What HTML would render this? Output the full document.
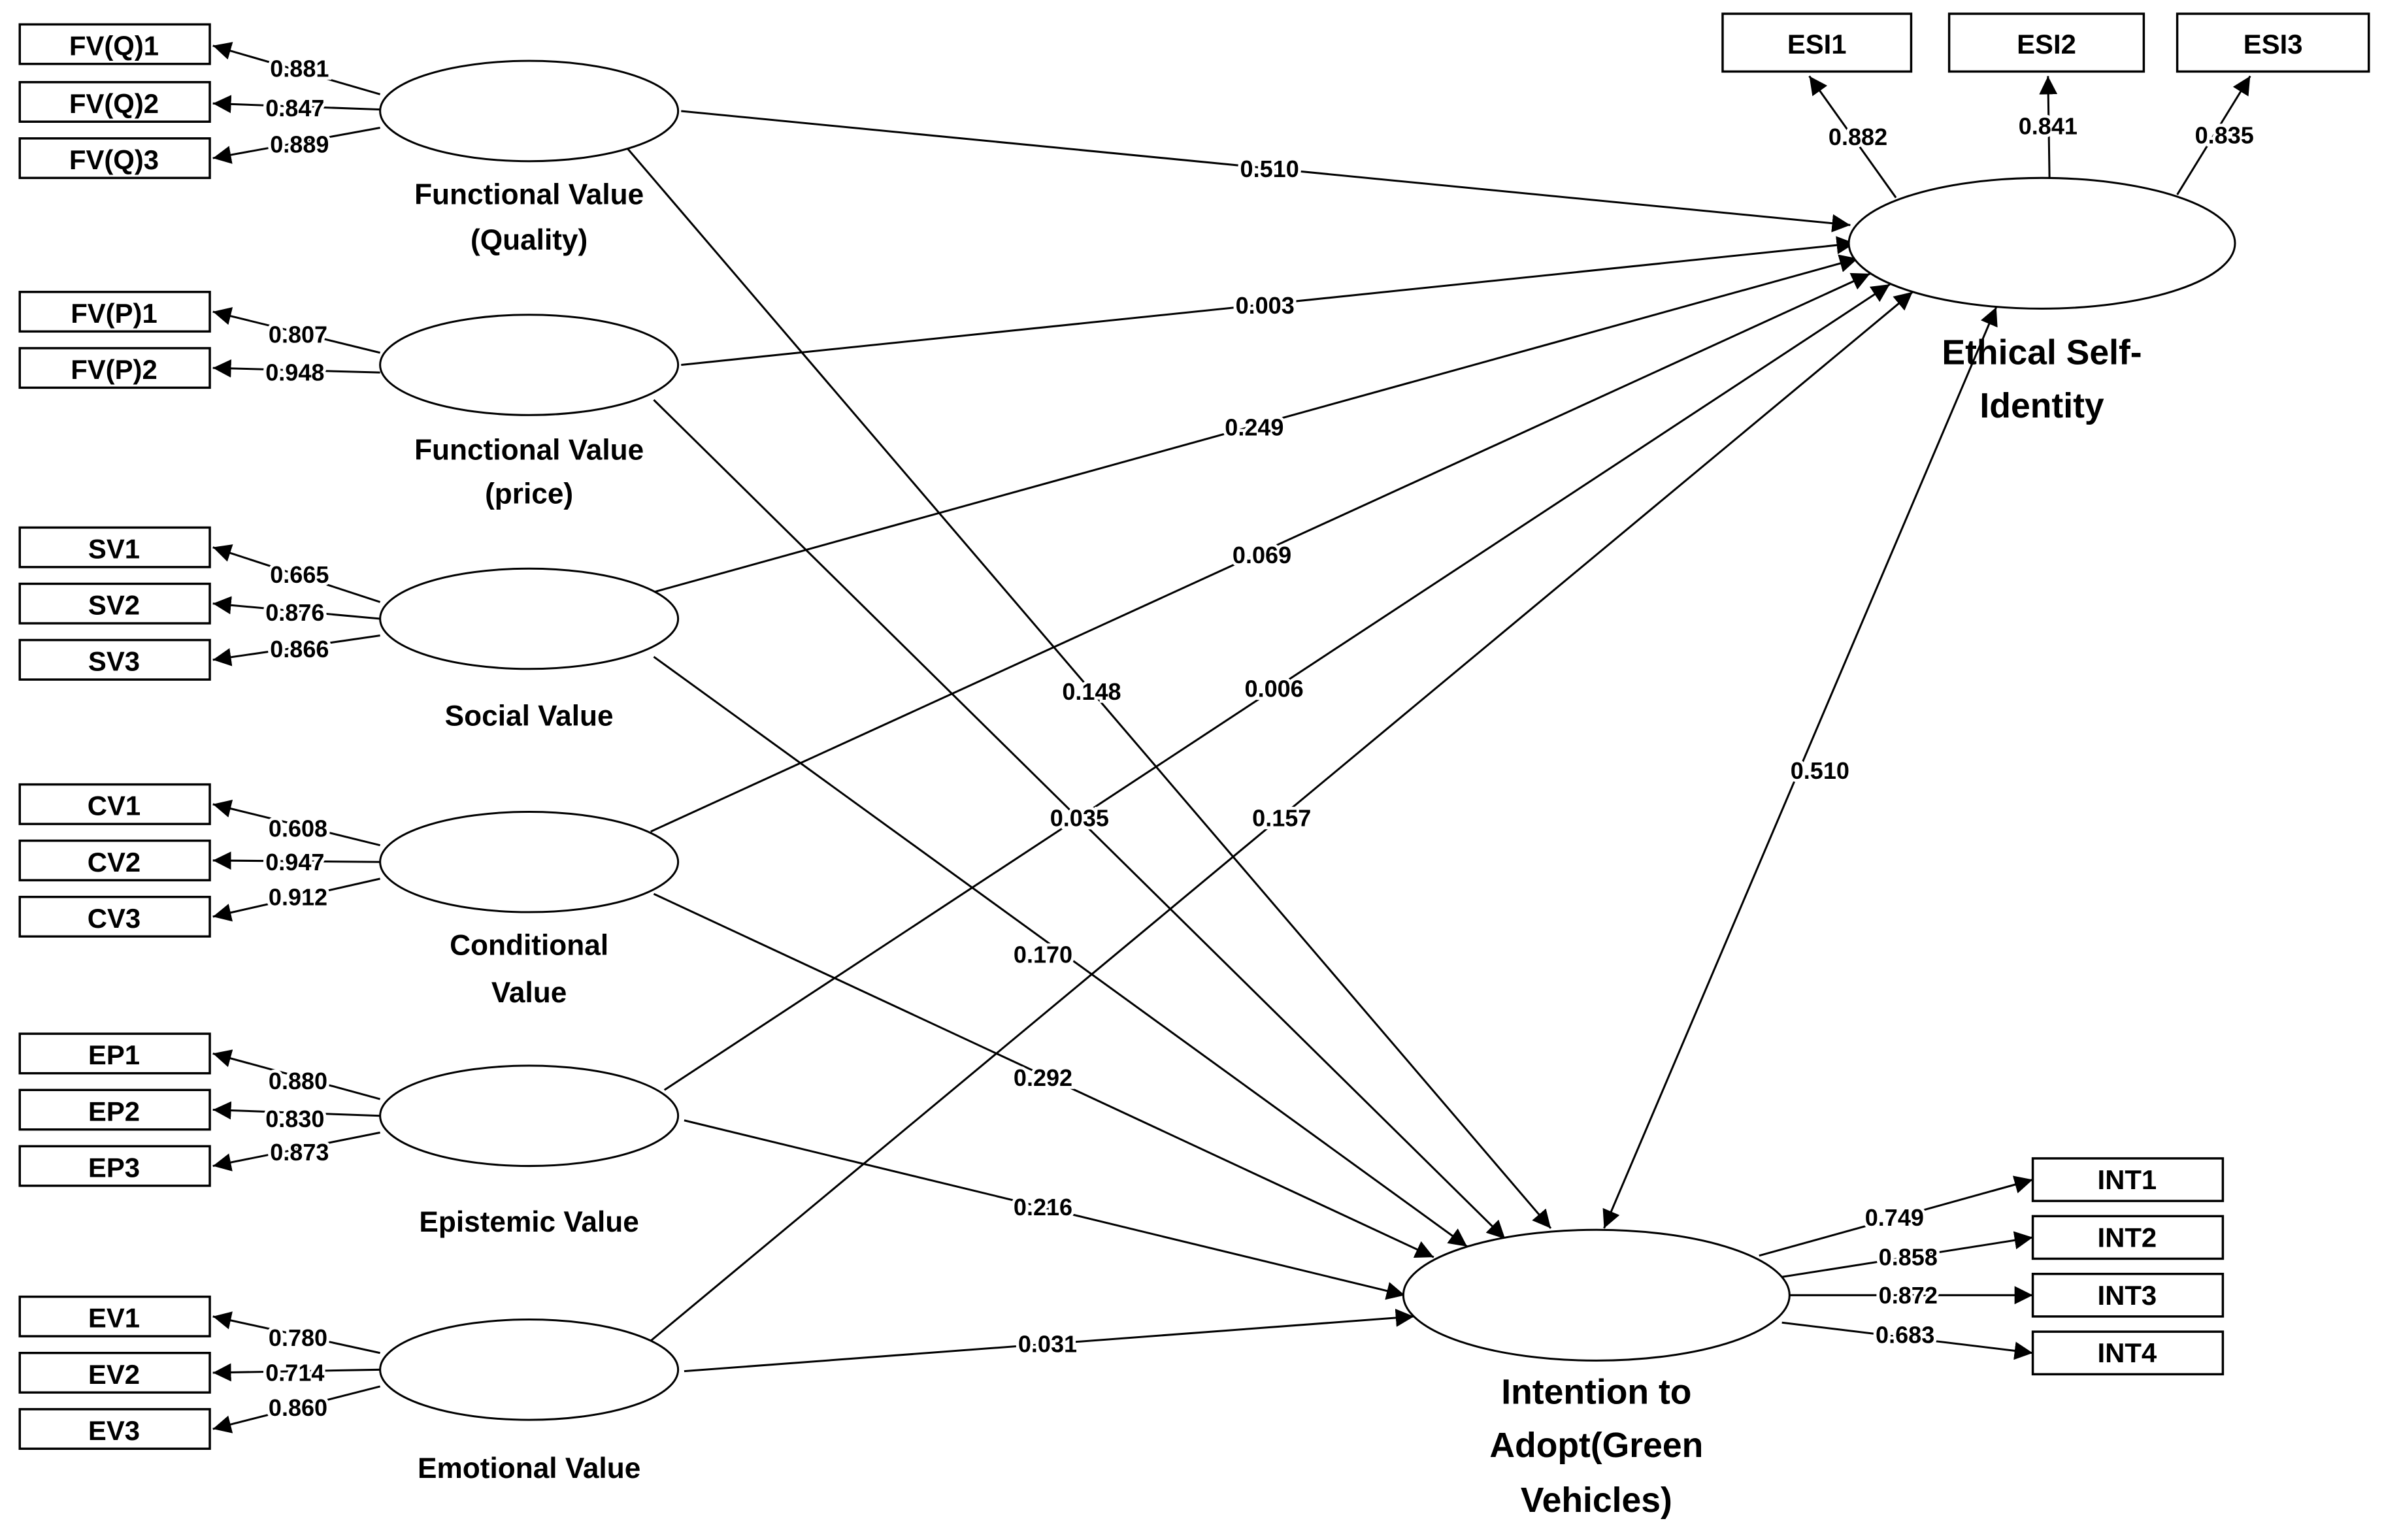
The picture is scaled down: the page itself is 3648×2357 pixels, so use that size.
<!DOCTYPE html>
<html><head><meta charset="utf-8"><style>
html,body{margin:0;padding:0;background:#fff;}
svg{display:block;}
text{font-family:"Liberation Sans Narrow","Liberation Sans",sans-serif;font-weight:bold;fill:#000;}
.n{font-size:15.5px;text-anchor:middle;dominant-baseline:central;paint-order:stroke;stroke:#fff;stroke-width:4px;}
.b{font-size:18px;text-anchor:middle;dominant-baseline:central;}
.l{font-size:19px;text-anchor:middle;dominant-baseline:central;}
.L{font-size:23px;text-anchor:middle;dominant-baseline:central;}
</style></head><body>
<svg width="3648" height="2357" viewBox="0 0 1568 1013" xmlns="http://www.w3.org/2000/svg">
<defs>
<marker id="a" viewBox="0 0 10 10" refX="10" refY="5" markerWidth="12" markerHeight="12" markerUnits="userSpaceOnUse" orient="auto-start-reverse"><path d="M0,0L10,5L0,10z" fill="#000"/></marker>
</defs>
<rect width="1568" height="1013" fill="#fff"/>
<g stroke="#000" stroke-width="1.3" fill="none" marker-end="url(#a)">
<!-- FVQ loadings -->
<line x1="250" y1="62" x2="140" y2="30"/><line x1="250" y1="72" x2="140" y2="68"/><line x1="250" y1="84" x2="140" y2="104"/>
<line x1="250" y1="232" x2="140" y2="205"/><line x1="250" y1="245" x2="140" y2="242"/>
<line x1="250" y1="396" x2="140" y2="360"/><line x1="250" y1="407" x2="140" y2="397"/><line x1="250" y1="418" x2="140" y2="434"/>
<line x1="250" y1="556" x2="140" y2="529"/><line x1="250" y1="567" x2="140" y2="566"/><line x1="250" y1="578" x2="140" y2="603"/>
<line x1="250" y1="723" x2="140" y2="693"/><line x1="250" y1="734" x2="140" y2="730"/><line x1="250" y1="745" x2="140" y2="767"/>
<line x1="250" y1="890" x2="140" y2="866"/><line x1="250" y1="901" x2="140" y2="903"/><line x1="250" y1="912" x2="140" y2="940"/>
<!-- ESI loadings -->
<line x1="1247" y1="130" x2="1190" y2="50"/><line x1="1348" y1="118" x2="1347" y2="50"/><line x1="1432" y1="128" x2="1480" y2="50"/>
<!-- INT loadings -->
<line x1="1157" y1="826" x2="1337" y2="776"/><line x1="1172" y1="840" x2="1337" y2="814"/><line x1="1177" y1="852" x2="1337" y2="852"/><line x1="1172" y1="870" x2="1337" y2="890"/>
<!-- structural -->
<line x1="448" y1="73" x2="1217" y2="148"/>
<line x1="448" y1="240" x2="1220" y2="160"/>
<line x1="428" y1="390" x2="1222" y2="170"/>
<line x1="428" y1="547" x2="1230" y2="180"/>
<line x1="437" y1="717" x2="1243" y2="187"/>
<line x1="428" y1="882" x2="1258" y2="192"/>
<line x1="413" y1="98" x2="1020" y2="808"/>
<line x1="430" y1="263" x2="990" y2="815"/>
<line x1="430" y1="432" x2="965" y2="820"/>
<line x1="430" y1="588" x2="943" y2="827"/>
<line x1="450" y1="737" x2="924" y2="852"/>
<line x1="450" y1="902" x2="930" y2="866"/>
<line x1="1313" y1="202" x2="1055" y2="808" marker-start="url(#a)"/>
</g>
<g stroke="#000" stroke-width="1.3" fill="#fff">
<ellipse cx="348" cy="73" rx="98" ry="33"/>
<ellipse cx="348" cy="240" rx="98" ry="33"/>
<ellipse cx="348" cy="407" rx="98" ry="33"/>
<ellipse cx="348" cy="567" rx="98" ry="33"/>
<ellipse cx="348" cy="734" rx="98" ry="33"/>
<ellipse cx="348" cy="901" rx="98" ry="33"/>
<ellipse cx="1343" cy="160" rx="127" ry="43"/>
<ellipse cx="1050" cy="852" rx="127" ry="43"/>
</g>
<g stroke="#000" stroke-width="1.5" fill="#fff">
<rect x="13" y="16" width="125" height="26"/><rect x="13" y="54" width="125" height="26"/><rect x="13" y="91" width="125" height="26"/>
<rect x="13" y="192" width="125" height="26"/><rect x="13" y="229" width="125" height="26"/>
<rect x="13" y="347" width="125" height="26"/><rect x="13" y="384" width="125" height="26"/><rect x="13" y="421" width="125" height="26"/>
<rect x="13" y="516" width="125" height="26"/><rect x="13" y="553" width="125" height="26"/><rect x="13" y="590" width="125" height="26"/>
<rect x="13" y="680" width="125" height="26"/><rect x="13" y="717" width="125" height="26"/><rect x="13" y="754" width="125" height="26"/>
<rect x="13" y="853" width="125" height="26"/><rect x="13" y="890" width="125" height="26"/><rect x="13" y="927" width="125" height="26"/>
<rect x="1133" y="9" width="124" height="38"/><rect x="1282" y="9" width="128" height="38"/><rect x="1432" y="9" width="126" height="38"/>
<rect x="1337" y="762" width="125" height="28"/><rect x="1337" y="800" width="125" height="28"/><rect x="1337" y="838" width="125" height="28"/><rect x="1337" y="876" width="125" height="28"/>
</g>
<g class="b">
<text class="b" x="75" y="30">FV(Q)1</text><text class="b" x="75" y="68">FV(Q)2</text><text class="b" x="75" y="105">FV(Q)3</text>
<text class="b" x="75" y="206">FV(P)1</text><text class="b" x="75" y="243">FV(P)2</text>
<text class="b" x="75" y="361">SV1</text><text class="b" x="75" y="398">SV2</text><text class="b" x="75" y="435">SV3</text>
<text class="b" x="75" y="530">CV1</text><text class="b" x="75" y="567">CV2</text><text class="b" x="75" y="604">CV3</text>
<text class="b" x="75" y="694">EP1</text><text class="b" x="75" y="731">EP2</text><text class="b" x="75" y="768">EP3</text>
<text class="b" x="75" y="867">EV1</text><text class="b" x="75" y="904">EV2</text><text class="b" x="75" y="941">EV3</text>
<text class="b" x="1195" y="29">ESI1</text><text class="b" x="1346" y="29">ESI2</text><text class="b" x="1495" y="29">ESI3</text>
<text class="b" x="1399" y="776">INT1</text><text class="b" x="1399" y="814">INT2</text><text class="b" x="1399" y="852">INT3</text><text class="b" x="1399" y="890">INT4</text>
</g>
<text class="l" x="348" y="128">Functional Value</text><text class="l" x="348" y="158">(Quality)</text>
<text class="l" x="348" y="296">Functional Value</text><text class="l" x="348" y="325">(price)</text>
<text class="l" x="348" y="471">Social Value</text>
<text class="l" x="348" y="622">Conditional</text><text class="l" x="348" y="653">Value</text>
<text class="l" x="348" y="804">Epistemic Value</text>
<text class="l" x="348" y="966">Emotional Value</text>
<text class="L" x="1343" y="232">Ethical Self-</text><text class="L" x="1343" y="267">Identity</text>
<text class="L" x="1050" y="916">Intention to</text><text class="L" x="1050" y="951">Adopt(Green</text><text class="L" x="1050" y="987">Vehicles)</text>
<g>
<text class="n" x="197" y="45">0.881</text><text class="n" x="194" y="71">0.847</text><text class="n" x="197" y="95">0.889</text>
<text class="n" x="196" y="220">0.807</text><text class="n" x="194" y="245">0.948</text>
<text class="n" x="197" y="378">0.665</text><text class="n" x="194" y="403">0.876</text><text class="n" x="197" y="427">0.866</text>
<text class="n" x="196" y="545">0.608</text><text class="n" x="194" y="567">0.947</text><text class="n" x="196" y="590">0.912</text>
<text class="n" x="196" y="711">0.880</text><text class="n" x="194" y="736">0.830</text><text class="n" x="197" y="758">0.873</text>
<text class="n" x="196" y="880">0.780</text><text class="n" x="194" y="903">0.714</text><text class="n" x="196" y="926">0.860</text>
<text class="n" x="1222" y="90">0.882</text><text class="n" x="1347" y="83">0.841</text><text class="n" x="1463" y="89">0.835</text>
<text class="n" x="1246" y="801">0.749</text><text class="n" x="1255" y="827">0.858</text><text class="n" x="1255" y="852">0.872</text><text class="n" x="1253" y="878">0.683</text>
<text class="n" x="835" y="111">0.510</text><text class="n" x="832" y="201">0.003</text><text class="n" x="825" y="281">0.249</text>
<text class="n" x="830" y="365">0.069</text><text class="n" x="838" y="453">0.006</text><text class="n" x="843" y="538">0.157</text>
<text class="n" x="718" y="455">0.148</text><text class="n" x="710" y="538">0.035</text><text class="n" x="686" y="628">0.170</text>
<text class="n" x="686" y="709">0.292</text><text class="n" x="686" y="794">0.216</text><text class="n" x="689" y="884">0.031</text>
<text class="n" x="1197" y="507">0.510</text>
</g>
</svg>
</body></html>
